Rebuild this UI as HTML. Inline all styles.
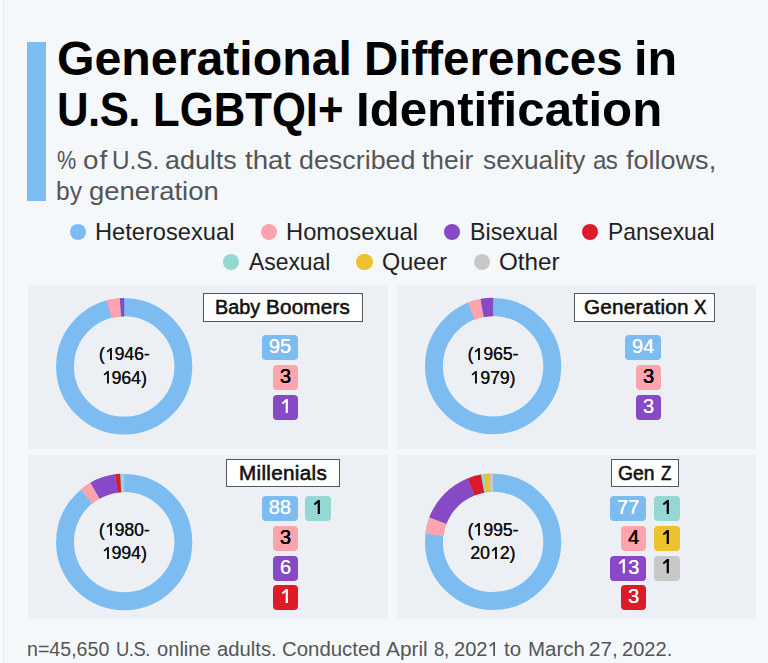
<!DOCTYPE html>
<html><head><meta charset="utf-8"><title>Generational Differences in U.S. LGBTQI+ Identification</title>
<style>
html,body{margin:0;padding:0}
body{width:768px;height:663px;position:relative;overflow:hidden;background:#f4f8fb;font-family:"Liberation Sans",sans-serif;color:#000}
.edge{position:absolute;left:0;top:0;width:3px;height:663px;background:#f9fbfd;border-right:1px solid #e6e8eb}
.bar{position:absolute;left:27px;top:42px;width:18.5px;height:158.7px;background:#7cbcf1}
.t{position:absolute;white-space:nowrap;line-height:1;transform-origin:0 0}
.h1{font-weight:700;font-size:47.5px}
.sub{color:#555;font-size:26.2px}
.lg{color:#222;font-size:23.6px}
.foot{color:#555;font-size:20px}
.lt{font-size:19.5px;color:#111;-webkit-text-stroke:0.55px #111}
.dot{position:absolute;border-radius:50%}
.panel{position:absolute;background:#ecf0f5}
.lab{position:absolute;box-sizing:border-box;background:#fff;border:1px solid #555;height:28.3px}
.yr{position:absolute;width:120px;text-align:center;font-size:17.6px;line-height:23.8px;color:#111;text-shadow:0.25px 0 0 #111}
.b{position:absolute;height:24.9px;border-radius:4px;color:#fff;font-size:20px;line-height:23.2px;text-align:center;text-shadow:0.1px 0 0 #fff}
.b.d{color:#000;text-shadow:0.15px 0 0 #000,-0.15px 0 0 #000}
svg.c{position:absolute;left:0;top:0}
.o{display:inline-block;width:.565em;height:.711em;fill:currentColor;vertical-align:baseline}
</style></head><body>
<div class="edge"></div>
<div class="bar"></div>
<div class="dot" style="left:69.70px;top:224.00px;width:16.4px;height:16.4px;background:#7cbcf1"></div>
<div class="dot" style="left:260.60px;top:224.00px;width:16.4px;height:16.4px;background:#ffa3ad"></div>
<div class="dot" style="left:444.00px;top:224.00px;width:16.4px;height:16.4px;background:#8849c6"></div>
<div class="dot" style="left:581.70px;top:224.00px;width:16.4px;height:16.4px;background:#dc1a28"></div>
<div class="dot" style="left:223.00px;top:253.90px;width:16.4px;height:16.4px;background:#96d7d3"></div>
<div class="dot" style="left:356.40px;top:253.90px;width:16.4px;height:16.4px;background:#ecc22f"></div>
<div class="dot" style="left:473.70px;top:253.90px;width:16.4px;height:16.4px;background:#c8c8c8"></div>

<div class="panel" style="left:28.2px;top:285px;width:360px;height:164px"></div>
<div class="panel" style="left:396.6px;top:285px;width:359.7px;height:164px"></div>
<div class="panel" style="left:28.2px;top:455.4px;width:360px;height:163.2px"></div>
<div class="panel" style="left:396.6px;top:455.4px;width:359.7px;height:163.2px"></div>

<svg class="c" width="768" height="663" viewBox="0 0 768 663">
<circle cx="124.2" cy="366.4" r="59.15" fill="none" stroke="#7cbcf1" stroke-width="17.90"/>
<path d="M119.71 298.15A68.39999999999999 68.39999999999999 0 0 1 124.20 298.00L124.20 316.50A49.900000000000006 49.900000000000006 0 0 0 120.93 316.61Z" fill="#8849c6"/>
<path d="M106.84 300.24A68.39999999999999 68.39999999999999 0 0 1 119.71 298.15L120.93 316.61A49.900000000000006 49.900000000000006 0 0 0 111.54 318.13Z" fill="#ffa3ad"/>
<circle cx="493.1" cy="366.2" r="59.15" fill="none" stroke="#7cbcf1" stroke-width="17.90"/>
<path d="M480.28 299.01A68.39999999999999 68.39999999999999 0 0 1 493.10 297.80L493.10 316.30A49.900000000000006 49.900000000000006 0 0 0 483.75 317.18Z" fill="#8849c6"/>
<path d="M467.92 302.60A68.39999999999999 68.39999999999999 0 0 1 480.28 299.01L483.75 317.18A49.900000000000006 49.900000000000006 0 0 0 474.73 319.80Z" fill="#ffa3ad"/>
<circle cx="124.2" cy="542.1" r="59.15" fill="none" stroke="#7cbcf1" stroke-width="17.90"/>
<path d="M120.08 473.82A68.39999999999999 68.39999999999999 0 0 1 124.20 473.70L124.20 492.20A49.900000000000006 49.900000000000006 0 0 0 121.20 492.29Z" fill="#96d7d3"/>
<path d="M115.09 474.31A68.39999999999999 68.39999999999999 0 0 1 120.08 473.82L121.20 492.29A49.900000000000006 49.900000000000006 0 0 0 117.56 492.64Z" fill="#dc1a28"/>
<path d="M90.31 482.69A68.39999999999999 68.39999999999999 0 0 1 115.09 474.31L117.56 492.64A49.900000000000006 49.900000000000006 0 0 0 99.48 498.76Z" fill="#8849c6"/>
<path d="M80.60 489.40A68.39999999999999 68.39999999999999 0 0 1 90.31 482.69L99.48 498.76A49.900000000000006 49.900000000000006 0 0 0 92.39 503.65Z" fill="#ffa3ad"/>
<circle cx="493.1" cy="541.9" r="59.15" fill="none" stroke="#7cbcf1" stroke-width="17.90"/>
<path d="M489.16 473.61A68.39999999999999 68.39999999999999 0 0 1 493.10 473.50L493.10 492.00A49.900000000000006 49.900000000000006 0 0 0 490.23 492.08Z" fill="#c8c8c8"/>
<path d="M483.94 474.12A68.39999999999999 68.39999999999999 0 0 1 489.16 473.61L490.23 492.08A49.900000000000006 49.900000000000006 0 0 0 486.41 492.45Z" fill="#ecc22f"/>
<path d="M480.87 474.60A68.39999999999999 68.39999999999999 0 0 1 483.94 474.12L486.41 492.45A49.900000000000006 49.900000000000006 0 0 0 484.18 492.80Z" fill="#96d7d3"/>
<path d="M467.59 478.44A68.39999999999999 68.39999999999999 0 0 1 480.87 474.60L484.18 492.80A49.900000000000006 49.900000000000006 0 0 0 474.49 495.60Z" fill="#dc1a28"/>
<path d="M429.20 517.50A68.39999999999999 68.39999999999999 0 0 1 467.59 478.44L474.49 495.60A49.900000000000006 49.900000000000006 0 0 0 446.48 524.10Z" fill="#8849c6"/>
<path d="M425.18 533.80A68.39999999999999 68.39999999999999 0 0 1 429.20 517.50L446.48 524.10A49.900000000000006 49.900000000000006 0 0 0 443.55 535.99Z" fill="#ffa3ad"/>
</svg>

<div class="yr" style="left:64.2px;top:343.0px">(<svg class="o" viewBox="0 0 11.44 14.4"><path d="M8.0 0V14.4H5.75V3.05L2.9 5.2L1.8 3.75L6.1 0Z"/></svg>946-<br><svg class="o" viewBox="0 0 11.44 14.4"><path d="M8.0 0V14.4H5.75V3.05L2.9 5.2L1.8 3.75L6.1 0Z"/></svg>964)</div>
<div class="yr" style="left:432.9px;top:343.0px">(<svg class="o" viewBox="0 0 11.44 14.4"><path d="M8.0 0V14.4H5.75V3.05L2.9 5.2L1.8 3.75L6.1 0Z"/></svg>965-<br><svg class="o" viewBox="0 0 11.44 14.4"><path d="M8.0 0V14.4H5.75V3.05L2.9 5.2L1.8 3.75L6.1 0Z"/></svg>979)</div>
<div class="yr" style="left:64.2px;top:518.7px">(<svg class="o" viewBox="0 0 11.44 14.4"><path d="M8.0 0V14.4H5.75V3.05L2.9 5.2L1.8 3.75L6.1 0Z"/></svg>980-<br><svg class="o" viewBox="0 0 11.44 14.4"><path d="M8.0 0V14.4H5.75V3.05L2.9 5.2L1.8 3.75L6.1 0Z"/></svg>994)</div>
<div class="yr" style="left:432.9px;top:518.7px">(<svg class="o" viewBox="0 0 11.44 14.4"><path d="M8.0 0V14.4H5.75V3.05L2.9 5.2L1.8 3.75L6.1 0Z"/></svg>995-<br>20<svg class="o" viewBox="0 0 11.44 14.4"><path d="M8.0 0V14.4H5.75V3.05L2.9 5.2L1.8 3.75L6.1 0Z"/></svg>2)</div>

<div class="lab" style="left:203.3px;top:293.3px;width:159.3px"></div>
<div class="lab" style="left:574.2px;top:293.3px;width:140.8px"></div>
<div class="lab" style="left:225.5px;top:459.2px;width:114.9px"></div>
<div class="lab" style="left:610.9px;top:459.2px;width:67.9px"></div>

<div class="b" style="left:261.9px;width:36.2px;top:335.4px;background:#7cbcf1">95</div>
<div class="b d" style="left:272.9px;width:25.2px;top:365.1px;background:#ffa3ad">3</div>
<div class="b" style="left:272.9px;width:25.2px;top:394.8px;background:#8849c6"><svg class="o" viewBox="0 0 11.44 14.4"><path d="M8.0 0V14.4H5.75V3.05L2.9 5.2L1.8 3.75L6.1 0Z"/></svg></div>
<div class="b" style="left:624.8px;width:36.5px;top:335.4px;background:#7cbcf1">94</div>
<div class="b d" style="left:635.8px;width:25.5px;top:365.1px;background:#ffa3ad">3</div>
<div class="b" style="left:635.8px;width:25.5px;top:394.8px;background:#8849c6">3</div>
<div class="b" style="left:261.5px;width:36.7px;top:496.3px;background:#7cbcf1">88</div>
<div class="b d" style="left:305.3px;width:25.6px;top:496.3px;background:#96d7d3"><svg class="o" viewBox="0 0 11.44 14.4"><path d="M8.0 0V14.4H5.75V3.05L2.9 5.2L1.8 3.75L6.1 0Z"/></svg></div>
<div class="b d" style="left:272.9px;width:25.3px;top:526.0px;background:#ffa3ad">3</div>
<div class="b" style="left:272.9px;width:25.3px;top:555.7px;background:#8849c6">6</div>
<div class="b" style="left:272.9px;width:25.3px;top:585.4px;background:#dc1a28"><svg class="o" viewBox="0 0 11.44 14.4"><path d="M8.0 0V14.4H5.75V3.05L2.9 5.2L1.8 3.75L6.1 0Z"/></svg></div>
<div class="b" style="left:610px;width:36.3px;top:496.3px;background:#7cbcf1">77</div>
<div class="b d" style="left:654.3px;width:25.4px;top:496.3px;background:#96d7d3"><svg class="o" viewBox="0 0 11.44 14.4"><path d="M8.0 0V14.4H5.75V3.05L2.9 5.2L1.8 3.75L6.1 0Z"/></svg></div>
<div class="b d" style="left:621px;width:25.3px;top:526.0px;background:#ffa3ad">4</div>
<div class="b d" style="left:654.3px;width:25.4px;top:526.0px;background:#ecc22f"><svg class="o" viewBox="0 0 11.44 14.4"><path d="M8.0 0V14.4H5.75V3.05L2.9 5.2L1.8 3.75L6.1 0Z"/></svg></div>
<div class="b" style="left:610px;width:36.3px;top:555.7px;background:#8849c6"><svg class="o" viewBox="0 0 11.44 14.4"><path d="M8.0 0V14.4H5.75V3.05L2.9 5.2L1.8 3.75L6.1 0Z"/></svg>3</div>
<div class="b d" style="left:654.3px;width:25.4px;top:555.7px;background:#c8c8c8"><svg class="o" viewBox="0 0 11.44 14.4"><path d="M8.0 0V14.4H5.75V3.05L2.9 5.2L1.8 3.75L6.1 0Z"/></svg></div>
<div class="b" style="left:621px;width:25.3px;top:585.4px;background:#dc1a28">3</div>

<div class="t h1" style="left:56.78px;top:34.59px;transform:scaleX(1.0155)">Generational</div>
<div class="t h1" style="left:364.20px;top:34.59px;transform:scaleX(0.9996)">Differences</div>
<div class="t h1" style="left:633.74px;top:34.59px;transform:scaleX(1.0216)">in</div>
<div class="t h1" style="left:57.46px;top:85.89px;transform:scaleX(0.9200);letter-spacing:-0.546px">U.S.</div>
<div class="t h1" style="left:153.49px;top:85.89px;transform:scaleX(0.9200);letter-spacing:-0.014px">LGBTQI+</div>
<div class="t h1" style="left:355.79px;top:85.89px;transform:scaleX(1.0360)">Identification</div>
<div class="t sub" style="left:57.00px;top:147.32px;transform:scaleX(0.8261)">%</div>
<div class="t sub" style="left:82.84px;top:147.32px;transform:scaleX(1.0600);letter-spacing:0.983px">of</div>
<div class="t sub" style="left:112.44px;top:147.32px;transform:scaleX(0.9281)">U.S.</div>
<div class="t sub" style="left:165.37px;top:147.32px;transform:scaleX(1.0264)">adults</div>
<div class="t sub" style="left:244.80px;top:147.32px;transform:scaleX(1.0562)">that</div>
<div class="t sub" style="left:298.77px;top:147.32px;transform:scaleX(1.0254)">described</div>
<div class="t sub" style="left:421.70px;top:147.32px;transform:scaleX(1.0074)">their</div>
<div class="t sub" style="left:483.40px;top:147.32px;transform:scaleX(1.0049)">sexuality</div>
<div class="t sub" style="left:592.98px;top:147.32px;transform:scaleX(0.9200);letter-spacing:-0.586px">as</div>
<div class="t sub" style="left:626.40px;top:147.32px;transform:scaleX(1.0324)">follows,</div>
<div class="t sub" style="left:56.46px;top:178.12px;transform:scaleX(0.9396)">by</div>
<div class="t sub" style="left:89.35px;top:178.12px;transform:scaleX(1.0479)">generation</div>
<div class="t lg" style="left:95.40px;top:221.32px;transform:scaleX(1.0031)">Heterosexual</div>
<div class="t lg" style="left:286.49px;top:221.32px;transform:scaleX(1.0062)">Homosexual</div>
<div class="t lg" style="left:470.02px;top:221.32px;transform:scaleX(0.9846)">Bisexual</div>
<div class="t lg" style="left:607.53px;top:221.32px;transform:scaleX(0.9663)">Pansexual</div>
<div class="t lg" style="left:249.20px;top:251.12px;transform:scaleX(0.9686)">Asexual</div>
<div class="t lg" style="left:381.81px;top:251.12px;transform:scaleX(0.9905)">Queer</div>
<div class="t lg" style="left:499.27px;top:251.12px;transform:scaleX(1.0266)">Other</div>
<div class="t foot" style="left:27.12px;top:638.97px;transform:scaleX(0.9801)">n=45,650</div>
<div class="t foot" style="left:115.98px;top:638.97px;transform:scaleX(0.9200);letter-spacing:-0.519px">U.S.</div>
<div class="t foot" style="left:156.70px;top:638.97px;transform:scaleX(1.0065)">online</div>
<div class="t foot" style="left:217.40px;top:638.97px;transform:scaleX(1.0127)">adults.</div>
<div class="t foot" style="left:282.28px;top:638.97px;transform:scaleX(1.0199)">Conducted</div>
<div class="t foot" style="left:386.10px;top:638.97px;transform:scaleX(1.0413)">April</div>
<div class="t foot" style="left:433.80px;top:638.97px;transform:scaleX(0.9200);letter-spacing:-0.123px">8,</div>
<div class="t foot" style="left:453.59px;top:638.97px;transform:scaleX(1.0053)">202<svg class="o" viewBox="0 0 11.44 14.4"><path d="M7.9 0V14.4H6.1V2.4L3.1 4.9L2.1 3.6L6.4 0Z"/></svg></div>
<div class="t foot" style="left:504.10px;top:638.97px;transform:scaleX(1.0207)">to</div>
<div class="t foot" style="left:527.78px;top:638.97px;transform:scaleX(1.0216)">March</div>
<div class="t foot" style="left:589.17px;top:638.97px;transform:scaleX(1.0318)">27,</div>
<div class="t foot" style="left:621.50px;top:638.97px;transform:scaleX(1.0044)">2022.</div>
<div class="t lt" style="left:214.89px;top:297.59px;transform:scaleX(1.0138)">Baby</div>
<div class="t lt" style="left:266.44px;top:297.59px;transform:scaleX(1.0600);letter-spacing:0.171px">Boomers</div>
<div class="t lt" style="left:584.10px;top:297.59px;transform:scaleX(1.0600);letter-spacing:0.244px">Generation</div>
<div class="t lt" style="left:693.60px;top:297.59px;transform:scaleX(0.9615)">X</div>
<div class="t lt" style="left:238.84px;top:463.79px;transform:scaleX(1.0600);letter-spacing:0.293px">Millenials</div>
<div class="t lt" style="left:618.40px;top:463.79px;transform:scaleX(0.9913)">Gen</div>
<div class="t lt" style="left:660.60px;top:463.79px;transform:scaleX(0.8750)">Z</div>
</body></html>
